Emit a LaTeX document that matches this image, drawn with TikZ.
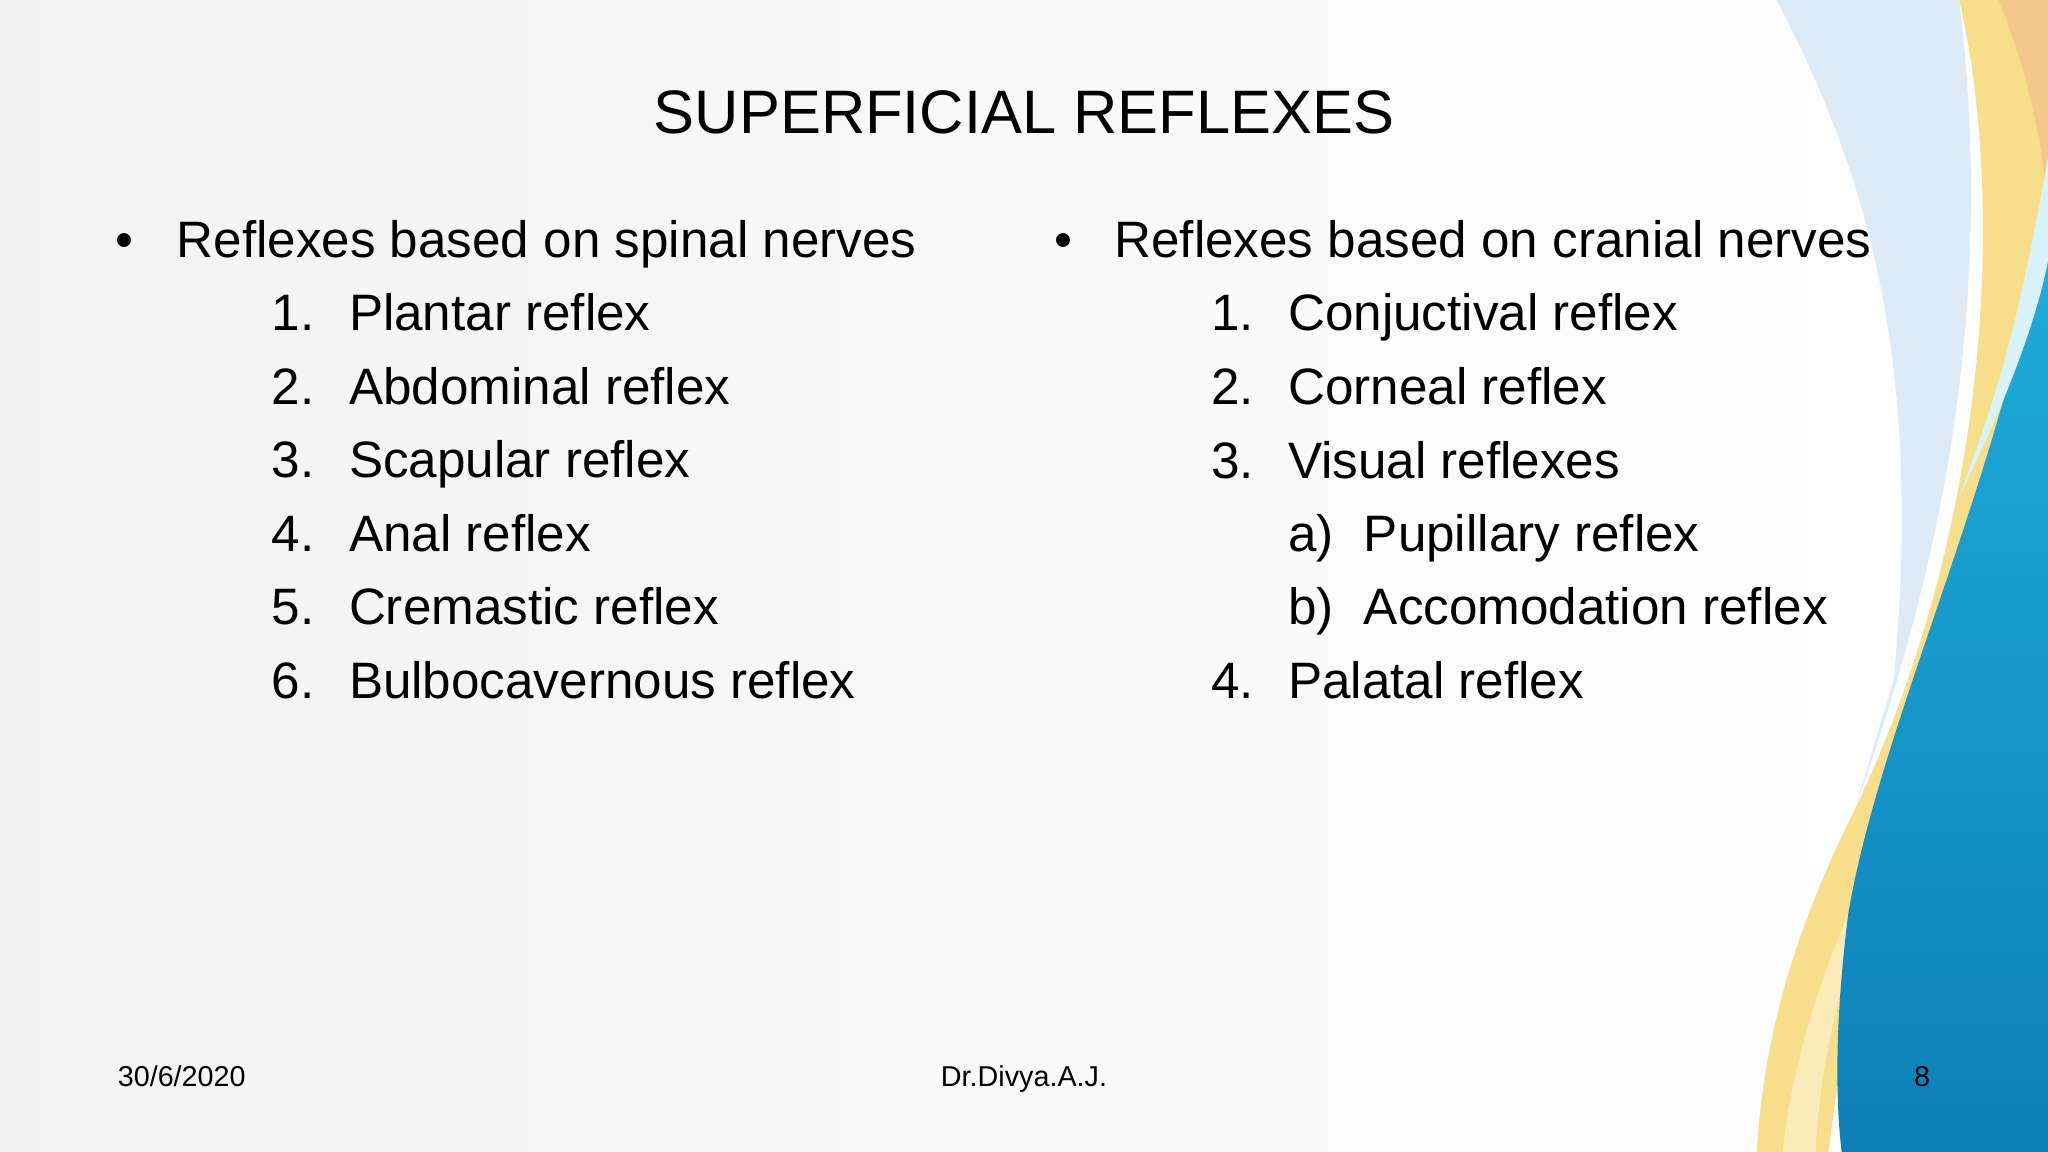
\documentclass[tikz,border=0pt]{standalone}
\usepackage{fontspec}
\setmainfont{Liberation Sans}
\definecolor{deepb}{HTML}{0E7FB8}
\definecolor{midb}{HTML}{1FB0DC}
\definecolor{yel}{HTML}{F7DE8A}
\definecolor{ora}{HTML}{F3C88A}
\definecolor{lblue}{HTML}{DCEBF5}
\begin{document}
\begin{tikzpicture}[x=1pt,y=-1pt,
  body/.style={anchor=base west,inner sep=0pt,font=\fontsize{39.2}{41}\selectfont},
  foot/.style={inner sep=0pt,font=\fontsize{22}{24}\selectfont}]
\fill[left color=black!5,right color=white] (0,0) rectangle (1568,882);
\useasboundingbox (0,0) rectangle (1568,882);
% light blue band
\fill[lblue] (1360,0) .. controls (1440,150) and (1470,300) .. (1450,520) -- (1420,620) .. controls (1480,450) and (1530,250) .. (1500,0) -- cycle;
% yellow band
\fill[yel] (1500,0) .. controls (1535,150) and (1525,400) .. (1420,620) .. controls (1370,720) and (1350,800) .. (1345,882) -- (1400,882) .. controls (1420,700) and (1500,500) .. (1568,300) -- (1568,0) -- cycle;
\fill[ora] (1530,0) .. controls (1555,60) and (1565,120) .. (1568,160) -- (1568,0) -- cycle;
\fill[yel!60!white] (1365,882) .. controls (1375,780) and (1420,680) .. (1480,560) .. controls (1430,680) and (1395,780) .. (1390,882) -- cycle;
% blue
\shade[top color=midb, bottom color=deepb] (1568,150) .. controls (1540,350) and (1440,550) .. (1415,700) .. controls (1405,780) and (1405,840) .. (1410,882) -- (1568,882) -- cycle;
\fill[cyan!15] (1568,120) .. controls (1545,250) and (1530,300) .. (1500,380) .. controls (1540,300) and (1560,240) .. (1568,200) -- cycle;

\node[inner sep=0pt,anchor=base,font=\fontsize{47}{50}\selectfont] (title) at (784,102) {SUPERFICIAL REFLEXES};

\node[body] (lb) at (88,197) {•};
\node[body] (lh) at (135,197) {Reflexes based on spinal nerves};
\foreach \i/\t [count=\k] in {1/Plantar reflex,2/Abdominal reflex,3/Scapular reflex,4/Anal reflex,5/Cremastic reflex,6/Bulbocavernous reflex}{
  \node[body] (ln\k) at (208,197+56.3*\k) {\i.};
  \node[body] (lt\k) at (267,197+56.3*\k) {\t};
}
\node[body] (rb) at (807,197) {•};
\node[body] (rh) at (853,197) {Reflexes based on cranial nerves};
\node[body] (rn1) at (927,253) {1.};
\node[body] (rt1) at (986,253) {Conjuctival reflex};
\node[body] (rn2) at (927,309.5) {2.};
\node[body] (rt2) at (986,309.5) {Corneal reflex};
\node[body] (rn3) at (927,366) {3.};
\node[body] (rt3) at (986,366) {Visual reflexes};
\node[body] (ra) at (986,422) {a)};
\node[body] (rat) at (1044,422) {Pupillary reflex};
\node[body] (rbb) at (986,478.5) {b)};
\node[body] (rbt) at (1044,478.5) {Accomodation reflex};
\node[body] (rn4) at (927,535) {4.};
\node[body] (rt4) at (986,535) {Palatal reflex};

\node[foot,anchor=base west] (date) at (90,832) {30/6/2020};
\node[foot,anchor=base] (auth) at (784,832) {Dr.Divya.A.J.};
\node[foot,anchor=base east] (pg) at (1478,832) {8};
\end{tikzpicture}
\end{document}
